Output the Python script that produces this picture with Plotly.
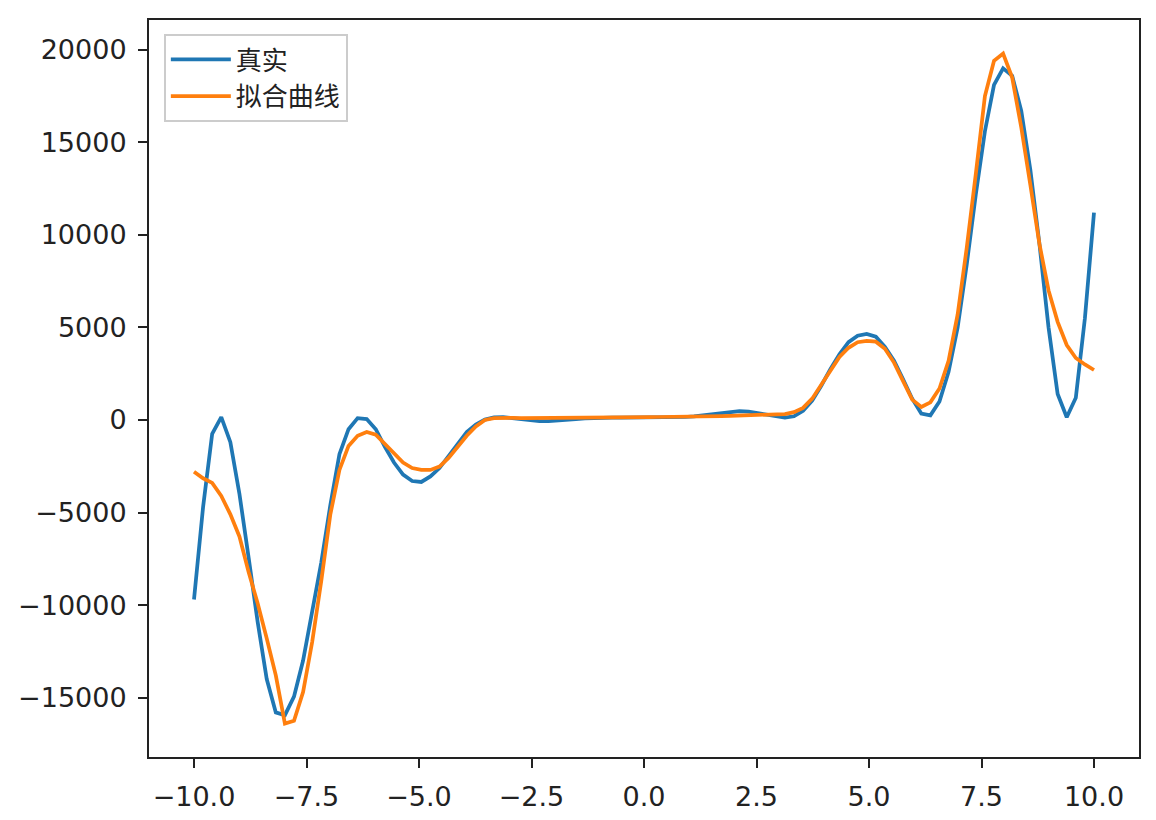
import plotly.graph_objects as go

x_vals = [
    -10.000, -9.798, -9.596, -9.394, -9.192, -8.990, -8.788, -8.586, -8.384, -8.182,
    -7.980, -7.778, -7.576, -7.374, -7.172, -6.970, -6.768, -6.566, -6.364, -6.162,
    -5.960, -5.758, -5.556, -5.354, -5.152, -4.949, -4.747, -4.545, -4.343, -4.141,
    -3.939, -3.737, -3.535, -3.333, -3.131, -2.929, -2.727, -2.525, -2.323, -2.121,
    -1.919, -1.717, -1.515, -1.313, -1.111, -0.909, -0.707, -0.505, -0.303, -0.101,
    0.101, 0.303, 0.505, 0.707, 0.909, 1.111, 1.313, 1.515, 1.717, 1.919,
    2.121, 2.323, 2.525, 2.727, 2.929, 3.131, 3.333, 3.535, 3.737, 3.939,
    4.141, 4.343, 4.545, 4.747, 4.949, 5.152, 5.354, 5.556, 5.758, 5.960,
    6.162, 6.364, 6.566, 6.768, 6.970, 7.172, 7.374, 7.576, 7.778, 7.980,
    8.182, 8.384, 8.586, 8.788, 8.990, 9.192, 9.394, 9.596, 9.798, 10.000,
]

true_vals = [
    -9700, -4700, -750, 150, -1200, -4000, -7400, -10900, -14000, -15800,
    -15950, -14950, -13000, -10300, -7700, -4600, -1850, -500, 100, 50,
    -500, -1450, -2300, -2950, -3300, -3350, -3050, -2600, -1950, -1250,
    -650, -250, 20, 140, 150, 100, 30, -30, -60, -60,
    -40, 0, 40, 80, 110, 120, 130, 130, 130, 130,
    130, 130, 130, 140, 160, 200, 260, 330, 400, 450,
    480, 450, 370, 260, 170, 130, 200, 500, 1050, 1850,
    2750, 3550, 4200, 4550, 4650, 4500, 3950, 3200, 2200, 1150,
    350, 250, 1000, 2600, 5000, 8400, 12200, 15600, 18100, 19000,
    18600, 16700, 13500, 9500, 5000, 1400, 150, 1200, 5500, 11200,
]

fit_vals = [
    -2800, -3150, -3400, -4100, -5100, -6300, -8200, -9900, -11800, -13800,
    -16400, -16250, -14700, -12000, -8700, -5100, -2700, -1400, -850, -650,
    -800, -1300, -1850, -2300, -2600, -2700, -2700, -2520, -2050, -1450,
    -850, -350, 0, 100, 120, 110, 100, 100, 100, 100,
    110, 110, 120, 120, 130, 130, 140, 140, 150, 150,
    150, 160, 160, 170, 170, 180, 190, 200, 210, 220,
    230, 240, 250, 260, 280, 320, 420, 650, 1150, 1900,
    2700, 3400, 3900, 4200, 4270, 4230, 3850, 3100, 2100, 1100,
    700, 950, 1700, 3200, 5700, 9300, 13300, 17500, 19400, 19800,
    18500, 15800, 12700, 9500, 7000, 5300, 4050, 3350, 3000, 2700,
]

series_names = ["真实", "拟合曲线"]
series_colors = ["#1f77b4", "#ff7f0e"]

x_ticks = [-10.0, -7.5, -5.0, -2.5, 0.0, 2.5, 5.0, 7.5, 10.0]
y_ticks = [-15000, -10000, -5000, 0, 5000, 10000, 15000, 20000]

fig = go.Figure()
for vals, name, color in zip([true_vals, fit_vals], series_names, series_colors):
    fig.add_trace(go.Scatter(x=x_vals, y=vals, mode="lines", name=name,
                             line=dict(color=color, width=3.75)))

xmin, xmax = min(x_vals), max(x_vals)
ymin = min(min(true_vals), min(fit_vals))
ymax = max(max(true_vals), max(fit_vals))
xpad = 0.05 * (xmax - xmin)
ypad = 0.05 * (ymax - ymin)

tick_font = dict(family="DejaVu Sans, Noto Sans CJK SC", size=27, color="#222222")

fig.update_layout(
    width=1156, height=820,
    margin=dict(l=139, r=25, t=10, b=71),
    paper_bgcolor="white", plot_bgcolor="white",
    font=tick_font,
    showlegend=True,
    legend=dict(
        x=0.015, y=0.981, xanchor="left", yanchor="top",
        bgcolor="rgba(255,255,255,0.8)", bordercolor="#cccccc", borderwidth=2,
        font=dict(family="Noto Sans CJK SC, DejaVu Sans", size=26, color="#222222"),
        itemwidth=60,
    ),
    xaxis=dict(
        range=[xmin - xpad, xmax + xpad],
        tickmode="array", tickvals=x_ticks,
        ticktext=[("−" if v < 0 else "") + f"{abs(v):.1f}" for v in x_ticks],
        showgrid=False, zeroline=False,
        showline=True, linecolor="#222222", linewidth=2, mirror=True,
        ticks="outside", ticklen=9, tickwidth=2, tickcolor="#222222",
        ticklabelstandoff=6,
        tickfont=tick_font,
    ),
    yaxis=dict(
        range=[ymin - ypad, ymax + ypad],
        tickmode="array", tickvals=y_ticks,
        ticktext=[("−" if v < 0 else "") + f"{abs(v)}" for v in y_ticks],
        showgrid=False, zeroline=False,
        showline=True, linecolor="#222222", linewidth=2, mirror=True,
        ticks="outside", ticklen=9, tickwidth=2, tickcolor="#222222",
        ticklabelstandoff=6,
        tickfont=tick_font,
    ),
)

fig.write_html("out.html")
